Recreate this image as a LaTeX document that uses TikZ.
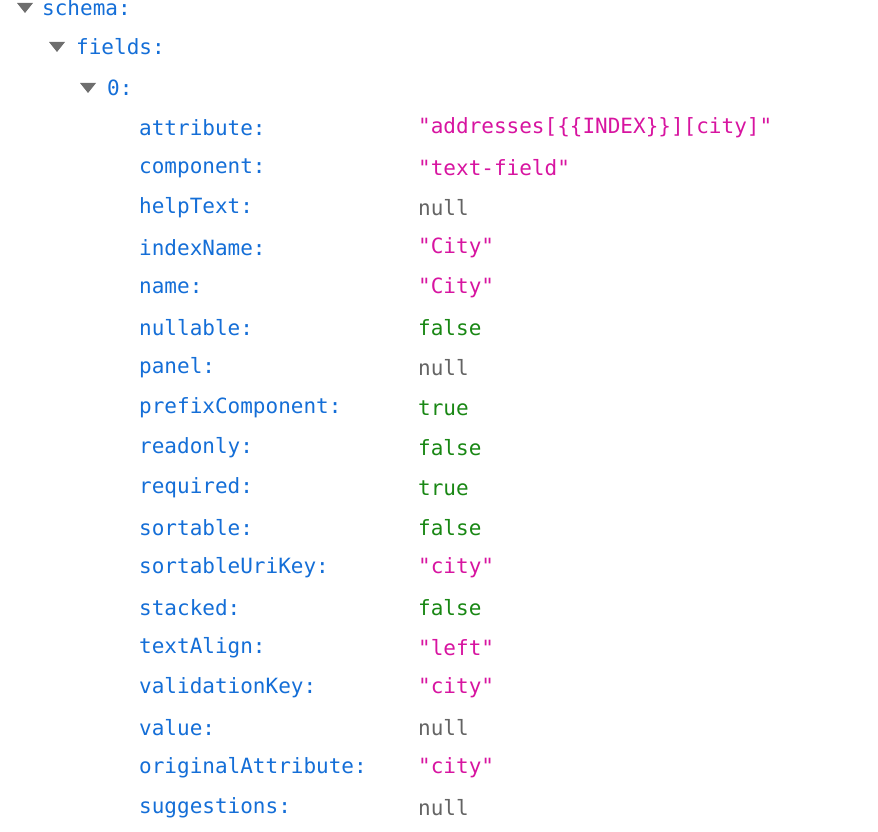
\documentclass[tikz,border=0pt]{standalone}
\usepackage{fontspec}
\setmonofont{DejaVu Sans Mono}
\begin{document}
\begin{tikzpicture}[x=1pt,y=-1pt,
  txt/.style={anchor=west,inner sep=0pt,font=\ttfamily\fontsize{21}{24}\selectfont},
  key/.style={txt,text=keyc},
  str/.style={txt,text=strc},
  nul/.style={txt,text=nulc},
  boo/.style={txt,text=booc},
  tri/.style={fill=tric,draw=none}]
\definecolor{keyc}{RGB}{20,110,215}
\definecolor{strc}{RGB}{215,20,160}
\definecolor{nulc}{RGB}{100,100,100}
\definecolor{booc}{RGB}{25,135,20}
\definecolor{tric}{RGB}{110,110,110}
\useasboundingbox (0,0) rectangle (878,832);
\fill[tri] (17,3) -- (33,3) -- (25,13) -- cycle;
\fill[tri] (49,42) -- (65,42) -- (57,52) -- cycle;
\fill[tri] (80,83) -- (96,83) -- (88,93) -- cycle;
\node[key] (schema) at (42,8) {schema:};
\node[key] (fields) at (76,47) {fields:};
\node[key] (zero) at (107,88) {0:};
\foreach \k/\v/\s [count=\i] in {
 attribute/{"addresses[\{\{INDEX\}\}][city]"}/str,
 component/{"text-field"}/str,
 helpText/null/nul,
 indexName/{"City"}/str,
 name/{"City"}/str,
 nullable/false/boo,
 panel/null/nul,
 prefixComponent/true/boo,
 readonly/false/boo,
 required/true/boo,
 sortable/false/boo,
 sortableUriKey/{"city"}/str,
 stacked/false/boo,
 textAlign/{"left"}/str,
 validationKey/{"city"}/str,
 value/null/nul,
 originalAttribute/{"city"}/str,
 suggestions/null/nul}{
  \node[key] (k\i) at (139,88+40*\i) {\k:};
  \node[\s] (v\i) at (418,88+40*\i) {\v};
}
\end{tikzpicture}
\end{document}
